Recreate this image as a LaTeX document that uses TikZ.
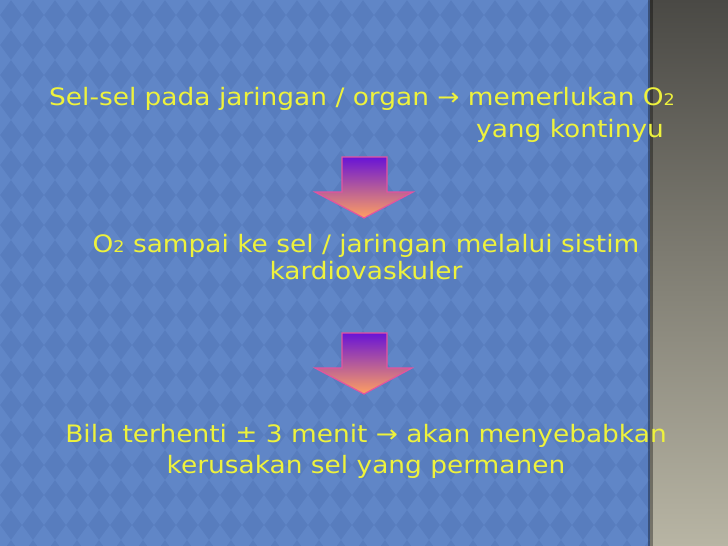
\documentclass[tikz,border=0pt]{standalone}
\usepackage{fontspec}
\setmainfont[FakeStretch=1.1]{DejaVu Sans}
\usetikzlibrary{positioning}

\definecolor{slideblue}{RGB}{88,125,190}
\definecolor{diamblue}{RGB}{96,134,199}
\definecolor{txtyellow}{RGB}{238,242,60}
\definecolor{arrtop}{RGB}{104,20,214}
\definecolor{arrmid}{RGB}{222,120,170}
\definecolor{arrbot}{RGB}{255,160,96}
\definecolor{arredge}{RGB}{226,84,160}
\definecolor{greytop}{RGB}{74,73,69}
\definecolor{greybot}{RGB}{184,181,164}

\newcommand{\Otwo}{O{\fontsize{16}{16}\selectfont 2}}

\tikzset{
  slidetext/.style={text=txtyellow, inner sep=0pt, anchor=base,
    font=\fontsize{24}{28}\selectfont},
  blockarrow/.style={top color=arrtop, middle color=arrmid, bottom color=arrbot, draw=arredge, line width=1.2pt, line join=miter}
}

\begin{document}
\begin{tikzpicture}[x=1pt,y=-1pt]
\useasboundingbox (0,0) rectangle (728,546);
% background
\fill[slideblue] (0,0) rectangle (650,546);
\begin{scope}
\clip (0,0) rectangle (650,546);
\foreach \i in {0,...,30}
  \foreach \j in {0,...,18}
    \fill[diamblue] (\i*22,\j*30-15) -- (\i*22+11,\j*30) -- (\i*22,\j*30+15) -- (\i*22-11,\j*30) -- cycle;
\end{scope}
\shade[top color=greytop, bottom color=greybot] (650,0) rectangle (728,546);
\fill[black, opacity=.35] (648,0) rectangle (653,546);

% texts
\node[slidetext] (need) at (362,105) {Sel-sel pada jaringan / organ → memerlukan \Otwo};
\node[slidetext] (needb) at (570,137) {yang kontinyu};
\node[slidetext] (via) at (366,252) {\Otwo{} sampai ke sel / jaringan melalui sistim};
\node[slidetext] (viab) at (366,279) {kardiovaskuler};
\node[slidetext] (stop) at (366,442) {Bila terhenti ± 3 menit → akan menyebabkan};
\node[slidetext] (stopb) at (366,473) {kerusakan sel yang permanen};

% arrows
\shade[blockarrow] (342,157) -- (387,157) -- (387,192) -- (413,192) -- (364,218) -- (315,192) -- (342,192) -- cycle;
\shade[blockarrow] (342,333) -- (387,333) -- (387,368) -- (412,368) -- (364,394) -- (315,368) -- (342,368) -- cycle;
\end{tikzpicture}
\end{document}
